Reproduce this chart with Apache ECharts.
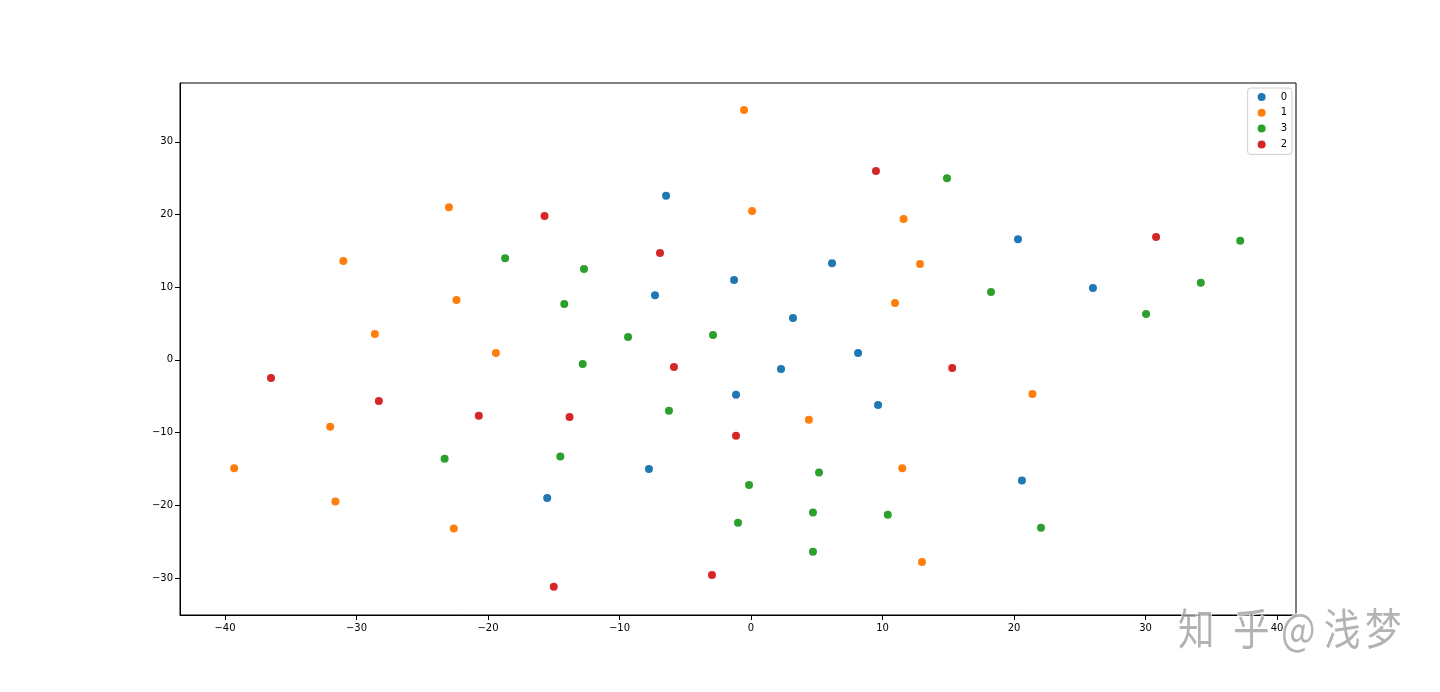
<!DOCTYPE html>
<html>
<head>
<meta charset="utf-8">
<script src="https://cdn.jsdelivr.net/npm/echarts@6/dist/echarts.min.js"></script>
<style>
html,body{margin:0;padding:0;background:#fff;}
#chart{width:1440px;height:692px;}
</style>
</head>
<body>
<div id="chart"></div>
<script>
// Categories (legend order)
const categories = ['0', '1', '3', '2'];
const colors = ['#1f77b4', '#ff7f0e', '#2ca02c', '#d62728'];

// Series values [x, y]
const series0 = [
  [-6.46, 22.6], [-1.29, 11.0], [-7.3, 8.9], [6.16, 13.3], [3.19, 5.78],
  [2.28, -1.24], [8.14, 0.96], [9.66, -6.19], [-1.14, -4.81], [-7.76, -15.0],
  [-15.5, -19.0], [20.3, 16.6], [26.0, 9.9], [20.6, -16.6]
];
const series1 = [
  [-0.53, 34.4], [0.08, 20.5], [-22.97, 21.0], [-31.0, 13.6], [-22.4, 8.25],
  [-28.6, 3.58], [-19.4, 0.96], [-32.0, -9.2], [-39.3, -14.9], [-31.6, -19.5],
  [-22.6, -23.2], [4.4, -8.25], [11.6, 19.4], [12.85, 13.2], [10.95, 7.84],
  [21.4, -4.68], [11.5, -14.9], [13.0, -27.8]
];
const series3 = [
  [14.9, 25.0], [-18.7, 14.0], [-12.7, 12.5], [-14.2, 7.7], [-9.35, 3.16],
  [-2.89, 3.44], [-12.8, -0.55], [-6.24, -7.0], [-23.3, -13.6], [-14.5, -13.3],
  [-0.15, -17.2], [5.17, -15.5], [-0.99, -22.4], [4.71, -21.0], [4.71, -26.4],
  [10.4, -21.3], [18.25, 9.35], [30.04, 6.33], [34.2, 10.6], [37.2, 16.4],
  [22.05, -23.1]
];
const series2 = [
  [9.5, 26.0], [-15.7, 19.8], [-6.92, 14.7], [-5.86, -0.96], [-36.5, -2.48],
  [-28.3, -5.64], [-20.7, -7.7], [-13.8, -7.84], [-1.14, -10.45], [15.3, -1.1],
  [30.8, 16.9], [-2.97, -29.6], [-15.0, -31.2]
];
const seriesData = [series0, series1, series3, series2];

// Tick labels
const xTicks = [-40, -30, -20, -10, 0, 10, 20, 30, 40];
const yTicks = [-30, -20, -10, 0, 10, 20, 30];

// Watermark text
const watermarkChars = ['知', '乎', '@', '浅', '梦'];
const watermarkX = [1178, 1233, 1281, 1324, 1365];

const fmt = v => (v < 0 ? '\u2212' + Math.abs(v) : String(v));

const chart = echarts.init(document.getElementById('chart'), null, {renderer: 'canvas'});
const labelStyle = {fontFamily: 'DejaVu Sans', fontSize: 10, color: '#000'};

chart.setOption({
  animation: false,
  backgroundColor: '#fff',
  grid: {
    left: 180, right: 144, top: 83, bottom: 77,
    show: true, borderColor: '#000', borderWidth: 1, backgroundColor: '#fff'
  },
  xAxis: {
    type: 'value', min: -43.42, max: 41.44,
    splitLine: {show: false},
    axisLine: {show: true, onZero: false, lineStyle: {color: '#000', width: 1}},
    axisTick: {show: true, length: 5, customValues: xTicks, lineStyle: {color: '#000'}},
    axisLabel: Object.assign({customValues: xTicks, margin: 8, formatter: fmt}, labelStyle)
  },
  yAxis: {
    type: 'value', min: -35.1, max: 38.1,
    splitLine: {show: false},
    axisLine: {show: true, onZero: false, lineStyle: {color: '#000', width: 1}},
    axisTick: {show: true, length: 5, customValues: yTicks, lineStyle: {color: '#000'}},
    axisLabel: Object.assign({customValues: yTicks, margin: 7, formatter: fmt}, labelStyle)
  },
  legend: {
    data: categories,
    orient: 'vertical',
    right: 148, top: 88,
    icon: 'circle',
    itemWidth: 8, itemHeight: 8, itemGap: 5.8,
    padding: [4, 5, 5, 10],
    borderColor: '#d0d0d0', borderWidth: 1, borderRadius: 3,
    backgroundColor: 'rgba(255,255,255,0.8)',
    textStyle: {fontFamily: 'DejaVu Sans', fontSize: 10, color: '#000', lineHeight: 8, padding: [0, 0, 0, 10]}
  },
  series: categories.map((c, i) => ({
    name: c,
    type: 'scatter',
    data: seriesData[i],
    symbolSize: 8,
    itemStyle: {color: colors[i], opacity: 1}
  })),
  graphic: watermarkChars.map((ch, i) => ({
    type: 'text',
    x: watermarkX[i], y: 607,
    scaleX: 0.85,
    z: 100,
    style: {
      text: ch,
      fontFamily: 'Noto Sans CJK SC',
      fontSize: 43,
      fill: 'rgba(160,160,160,0.8)',
      stroke: 'rgba(255,255,255,0.8)',
      lineWidth: 2,
      shadowColor: 'rgba(90,90,90,0.5)',
      shadowOffsetX: 1,
      shadowOffsetY: 1,
      shadowBlur: 1
    }
  }))
});
</script>
</body>
</html>
